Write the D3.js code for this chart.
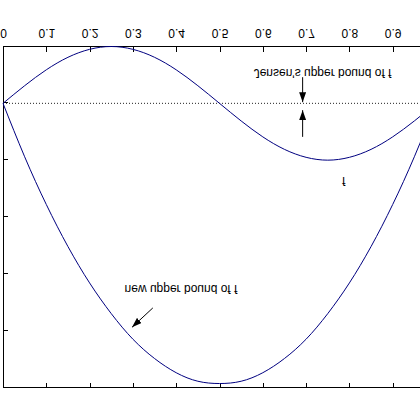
<!DOCTYPE html>
<html>
<head>
<meta charset="utf-8">
<script src="https://cdn.jsdelivr.net/npm/d3@7"></script>
<style>
  body { margin: 0; background: #fff; }
  svg { display: block; }
  text { font-family: Arial, "Liberation Sans", sans-serif; font-size: 12px; fill: #000; }
</style>
</head>
<body>
<svg id="chart"></svg>
<script>
// sample points
const xValues = [0, 0.05, 0.1, 0.15, 0.2, 0.25, 0.3, 0.35, 0.4, 0.45, 0.5,
                 0.55, 0.6, 0.65, 0.7, 0.75, 0.8, 0.85, 0.9, 0.95, 1];
const fValues = [0, -0.31, -0.59, -0.81, -0.95, -1.0, -0.95, -0.81, -0.59, -0.31, 0,
                 0.31, 0.59, 0.81, 0.95, 1.0, 0.95, 0.81, 0.59, 0.31, 0];
const boundValues = [0, 0.94, 1.78, 2.52, 3.16, 3.70, 4.15, 4.49, 4.74, 4.89, 4.93,
                     4.89, 4.74, 4.49, 4.15, 3.70, 3.16, 2.52, 1.78, 0.94, 0];
const jensenX = [0, 1];
const jensenValues = [0, 0];
const xTicks = [0, 0.1, 0.2, 0.3, 0.4, 0.5, 0.6, 0.7, 0.8, 0.9, 1];
const xTickLabels = ["0", "0.1", "0.2", "0.3", "0.4", "0.5", "0.6", "0.7", "0.8", "0.9", ""];
const yTicks = [-1, 0, 1, 2, 3, 4, 5];

const W = 420, H = 420;
const curveColor = "#000080";

const svg = d3.select("#chart").attr("width", W).attr("height", H);

svg.append("defs").append("marker")
    .attr("id", "head")
    .attr("markerUnits", "userSpaceOnUse")
    .attr("viewBox", "0 0 10 7")
    .attr("refX", 10).attr("refY", 3.5)
    .attr("markerWidth", 10).attr("markerHeight", 7)
    .attr("orient", "auto")
  .append("path")
    .attr("d", "M0,0 L10,3.5 L0,7 Z")
    .attr("fill", "#000");

// the whole figure is shown upside down
const g = svg.append("g").attr("transform", `translate(0,${H}) scale(1,-1)`);

const x = d3.scaleLinear().domain([0, 1]).range([3, 436]);
const y = d3.scaleLinear().domain([-1, 5]).range([373.5, 32.5]);

const axes = g.append("g").attr("shape-rendering", "crispEdges");

axes.append("g")
    .attr("transform", `translate(0,${y(-1)})`)
    .call(d3.axisBottom(x).tickValues(xTicks).tickFormat((d, i) => xTickLabels[i])
        .tickSizeInner(-5).tickSizeOuter(0).tickPadding(9));

axes.append("g")
    .attr("transform", `translate(0,${y(5)})`)
    .call(d3.axisTop(x).tickValues(xTicks).tickFormat("")
        .tickSizeInner(-5).tickSizeOuter(0));

// y labels sit left of the window, only the ticks are seen
axes.append("g")
    .attr("transform", `translate(${x(0)},0)`)
    .call(d3.axisLeft(y).tickValues(yTicks).tickFormat("")
        .tickSizeInner(-5).tickSizeOuter(0));

axes.append("g")
    .attr("transform", `translate(${x(1)},0)`)
    .call(d3.axisRight(y).tickValues(yTicks).tickFormat("")
        .tickSizeInner(-5).tickSizeOuter(0));

axes.selectAll(".domain, .tick line").attr("stroke", "#000");
axes.selectAll(".tick text")
    .attr("font-family", "Arial, 'Liberation Sans', sans-serif")
    .attr("font-size", 12);

// Jensen's bound (dotted chord)
g.append("path")
    .datum(jensenX.map((d, i) => [d, jensenValues[i]]))
    .attr("d", d3.line().x(d => x(d[0])).y(d => y(d[1])))
    .attr("fill", "none")
    .attr("stroke", "#222")
    .attr("stroke-dasharray", "1,2");

const line = d3.line()
    .x(d => x(d[0]))
    .y(d => y(d[1]))
    .curve(d3.curveNatural);

g.append("path")
    .datum(xValues.map((d, i) => [d, fValues[i]]))
    .attr("d", line)
    .attr("fill", "none")
    .attr("stroke", curveColor);

g.append("path")
    .datum(xValues.map((d, i) => [d, boundValues[i]]))
    .attr("d", line)
    .attr("fill", "none")
    .attr("stroke", curveColor);

// annotations
const arrows = [
  { from: [0.692, -0.46], to: [0.692, -0.02] },
  { from: [0.692, 0.59], to: [0.692, 0.12] },
  { from: [0.346, 3.60], to: [0.298, 3.94] }
];
g.selectAll(".arrow")
    .data(arrows)
    .enter()
    .append("line")
    .attr("class", "arrow")
    .attr("x1", d => x(d.from[0])).attr("y1", d => y(d.from[1]))
    .attr("x2", d => x(d.to[0])).attr("y2", d => y(d.to[1]))
    .attr("stroke", "#000")
    .attr("marker-end", "url(#head)");

const labels = [
  { text: "Jensen's upper bound of f", at: [0.738, -0.53] },
  { text: "f", at: [0.787, 1.37] },
  { text: "new upper bound of f", at: [0.411, 3.27] }
];
g.selectAll(".label")
    .data(labels)
    .enter()
    .append("text")
    .attr("class", "label")
    .attr("x", d => x(d.at[0]))
    .attr("y", d => y(d.at[1]))
    .attr("dy", "0.35em")
    .attr("text-anchor", "middle")
    .text(d => d.text);
</script>
</body>
</html>
